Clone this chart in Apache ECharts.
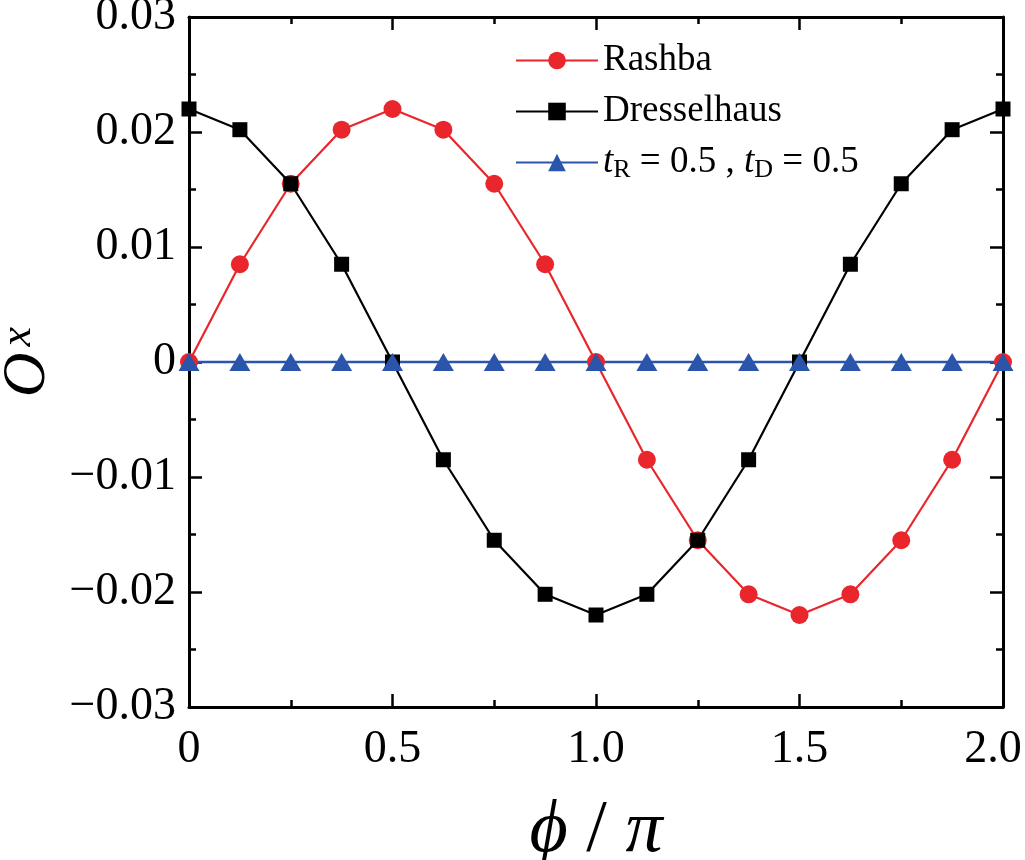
<!DOCTYPE html>
<html>
<head>
<meta charset="utf-8">
<script src="https://cdn.jsdelivr.net/npm/echarts@6/dist/echarts.min.js"></script>
<style>
  html, body { margin: 0; padding: 0; background: #fff; }
  #chart { width: 1025px; height: 860px; }
</style>
</head>
<body>
<div id="chart"></div>
<script>
// phi / pi sample points
var phi = [0, 0.125, 0.25, 0.375, 0.5, 0.625, 0.75, 0.875, 1.0,
           1.125, 1.25, 1.375, 1.5, 1.625, 1.75, 1.875, 2.0];
var rashba = [0, 0.0085, 0.0155, 0.0202, 0.0220, 0.0202, 0.0155, 0.0085, 0,
              -0.0085, -0.0155, -0.0202, -0.0220, -0.0202, -0.0155, -0.0085, 0];
var dresselhaus = [0.0220, 0.0202, 0.0155, 0.0085, 0, -0.0085, -0.0155, -0.0202, -0.0220,
                   -0.0202, -0.0155, -0.0085, 0, 0.0085, 0.0155, 0.0202, 0.0220];
var mixed = [0, 0, 0, 0, 0, 0, 0, 0, 0, 0, 0, 0, 0, 0, 0, 0, 0];
var seriesNames = ['Rashba', 'Dresselhaus', 'mixed'];

var pairs = (ys) => phi.map((x, i) => [x, ys[i]]);

var font = 'Liberation Serif';
var tickLine = { color: '#000', width: 2.5 };

var chart = echarts.init(document.getElementById('chart'));

var option = {
    animation: false,
    textStyle: { fontFamily: font },
    grid: { left: 189, right: 22, top: 17, bottom: 153, outerBoundsMode: 'none', containLabel: false },
    legend: {
        orient: 'vertical',
        left: 510,
        top: 37,
        itemWidth: 82,
        itemHeight: 22,
        itemGap: 14,
        data: seriesNames,
        textStyle: {
            fontFamily: font, fontSize: 37, color: '#000',
            rich: {
                it: { fontFamily: font, fontStyle: 'italic', fontSize: 37, color: '#000' },
                sub: { fontFamily: font, fontSize: 26, color: '#000', padding: [16, 0, 0, 0] },
                n: { fontFamily: font, fontSize: 37, color: '#000' }
            }
        },
        formatter: function(name) {
            if (name === 'mixed') {
                return '{it|t}{sub|R}{n|\u00a0=\u00a00.5\u00a0,\u00a0}{it|t}{sub|D}{n|\u00a0=\u00a00.5}';
            }
            return name;
        }
    },
    xAxis: [{
        type: 'value',
        min: 0, max: 2, interval: 0.5,
        name: '{it|\u03d5}{n|\u00a0/\u00a0}{it|\u03c0}',
        nameLocation: 'middle',
        nameGap: 88,
        nameTextStyle: {
            rich: {
                it: { fontFamily: font, fontStyle: 'italic', fontSize: 74, color: '#000' },
                n: { fontFamily: font, fontSize: 74, color: '#000' }
            }
        },
        axisLine: { show: true, onZero: false, lineStyle: { color: '#000', width: 3 } },
        axisTick: { show: true, inside: true, length: 13, lineStyle: tickLine },
        minorTick: { show: true, splitNumber: 2, length: 7, lineStyle: tickLine },
        splitLine: { show: false },
        axisLabel: {
            fontSize: 46, color: '#000', margin: 20, fontFamily: font,
            rich: { last: { fontSize: 46, fontFamily: font, color: '#000', padding: [0, 20, 0, 0] } },
            formatter: function(v) {
                if (v === 0) return '0';
                if (v === 2) return '{last|2.0}';
                return v.toFixed(1);
            }
        }
    }, {
        type: 'value', position: 'top',
        min: 0, max: 2, interval: 0.5,
        axisLine: { show: true, onZero: false, lineStyle: { color: '#000', width: 3 } },
        axisTick: { show: true, inside: true, length: 13, lineStyle: tickLine },
        minorTick: { show: true, splitNumber: 2, length: 7, lineStyle: tickLine },
        splitLine: { show: false },
        axisLabel: { show: false }
    }],
    yAxis: [{
        type: 'value',
        min: -0.03, max: 0.03, interval: 0.01,
        name: '{it|O}{sup|x}',
        nameLocation: 'middle',
        nameGap: 128,
        nameRotate: 90,
        nameTextStyle: {
            rich: {
                it: { fontFamily: font, fontStyle: 'italic', fontSize: 62, lineHeight: 62, color: '#000' },
                sup: { fontFamily: font, fontStyle: 'italic', fontSize: 44, lineHeight: 62, verticalAlign: 'top', color: '#000', padding: [0, 0, 0, 6] }
            }
        },
        axisLine: { show: true, onZero: false, lineStyle: { color: '#000', width: 3 } },
        axisTick: { show: true, inside: true, length: 13, lineStyle: tickLine },
        minorTick: { show: true, splitNumber: 2, length: 7, lineStyle: tickLine },
        splitLine: { show: false },
        axisLabel: {
            fontSize: 46, color: '#000', margin: 13, fontFamily: font,
            formatter: function(v) {
                if (Math.abs(v) < 1e-9) return '0';
                return v < 0 ? '\u2212' + Math.abs(v).toFixed(2) : v.toFixed(2);
            }
        }
    }, {
        type: 'value', position: 'right',
        min: -0.03, max: 0.03, interval: 0.01,
        axisLine: { show: true, onZero: false, lineStyle: { color: '#000', width: 3 } },
        axisTick: { show: true, inside: true, length: 13, lineStyle: tickLine },
        minorTick: { show: true, splitNumber: 2, length: 7, lineStyle: tickLine },
        splitLine: { show: false },
        axisLabel: { show: false }
    }],
    series: [
        {
            name: 'Rashba', type: 'line', data: pairs(rashba),
            symbol: 'circle', symbolSize: 18,
            itemStyle: { color: '#e8262b' },
            lineStyle: { color: '#e8262b', width: 2.2 }
        },
        {
            name: 'Dresselhaus', type: 'line', data: pairs(dresselhaus),
            symbol: 'rect', symbolSize: 15,
            itemStyle: { color: '#000' },
            lineStyle: { color: '#000', width: 2.2 }
        },
        {
            name: 'mixed', type: 'line', data: pairs(mixed),
            symbol: 'triangle', symbolSize: [21, 18],
            itemStyle: { color: '#2a55aa' },
            lineStyle: { color: '#2a55aa', width: 2.5 }
        }
    ]
};

chart.setOption(option);
</script>
</body>
</html>
